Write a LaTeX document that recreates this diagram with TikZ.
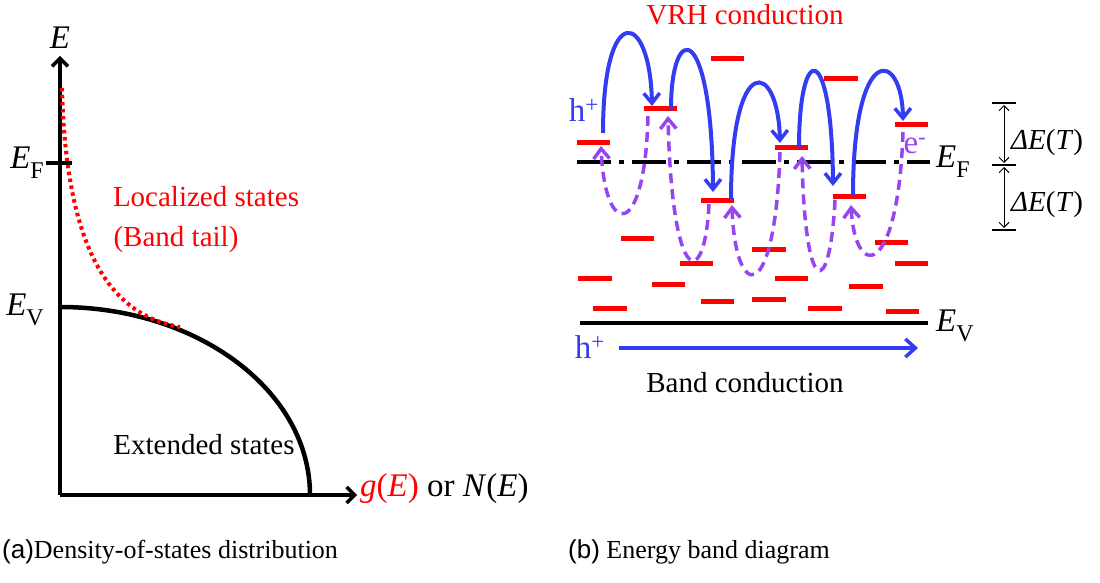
\documentclass[tikz,border=0pt]{standalone}
\usepackage{fontspec}
\setmainfont{Liberation Serif}
\newfontfamily\sansf{Liberation Sans}
\usetikzlibrary{arrows.meta}
\definecolor{hblue}{RGB}{50,60,240}
\definecolor{vio}{RGB}{150,70,240}
\newcommand{\Esub}[1]{\textit{E}\raisebox{-0.3em}{\fontsize{24}{26}\selectfont #1}}
\begin{document}
\begin{tikzpicture}[x=1pt,y=-1pt,
 lev/.style={red,line width=5pt},
 hop/.style={hblue,line width=4pt,-{Straight Barb[length=10pt,width=16pt,line width=3.5pt]}},
 back/.style={vio,line width=3.5pt,dash pattern=on 10pt off 6pt,-{Straight Barb[length=10pt,width=16pt,line width=3.5pt]}},
 txt/.style={font=\fontsize{29}{32}\selectfont,inner sep=0pt},
 lab/.style={font=\fontsize{33}{36}\selectfont,inner sep=0pt},
 captxt/.style={font=\fontsize{26}{28}\selectfont,inner sep=0pt}]
\useasboundingbox (0,0) rectangle (1100,583);
% left panel
\coordinate (o) at (60,495);
\coordinate (ytop) at (60,56);
\coordinate (xend) at (357,495);
\draw[line width=4pt,-{Straight Barb[length=8pt,width=16pt,line width=3.5pt]}] (o) -- (ytop);
\draw[line width=4pt,-{Straight Barb[length=8pt,width=16pt,line width=3.5pt]}] (o) -- (xend);
\node[lab] (E) at (60,38) {\textit{E}};
\coordinate (ef1) at (46,163); \coordinate (ef2) at (72,163);
\draw[line width=4pt] (ef1) -- (ef2);
\node[lab,anchor=east] (EFl) at (44,163) {\Esub{F}};
\node[lab,anchor=east] (EVl) at (44,310) {\Esub{V}};
\coordinate (ev) at (60,307); \coordinate (bend) at (310,495);
\draw[line width=4.5pt] (ev) .. controls (198,307) and (310,391) .. (bend);
\coordinate (t1) at (62,88); \coordinate (t2) at (180,327);
\draw[red,line width=4pt,dash pattern=on 3.5pt off 3.5pt] (t1) .. controls (66,250) and (110,315) .. (t2);
\node[txt,red] (loc) at (206,197) {Localized states};
\node[txt,red] (tail) at (176,240) {(Band tail)};
\node[txt] (ext) at (204,445) {Extended states};
\node[lab,anchor=west] (gE) at (360,489) {\textcolor{red}{\textit{g}(\textit{E})} or \textit{N}(\textit{E})};
\node[captxt,anchor=west] (capa) at (2,552) {{\sansf (a)}Density-of-states distribution};
\node[captxt,anchor=west] (capb) at (568,552) {{\sansf (b)} Energy band diagram};
% right panel
\coordinate (f1) at (577,162); \coordinate (f2) at (930,162);
\draw[line width=4pt,dash pattern=on 34pt off 8pt on 5pt off 8pt] (f1) -- (f2);
\coordinate (v1) at (580,323); \coordinate (v2) at (928,323);
\draw[line width=4pt] (v1) -- (v2);
\node[lab,anchor=west] (EF) at (936,162) {\Esub{F}};
\node[lab,anchor=west] (EV) at (936,326) {\Esub{V}};
\foreach \a/\b/\y in {577/610/143,644/677/109,711/744/59,701/734/200,775/808/148,824/858/79,833/866/196,895/928/125,
621/654/238,680/713/263,752/786/249,875/908/242,895/928/263,578/612/278,652/685/284,775/808/278,849/883/286,
701/734/301,752/786/299,593/627/308,808/842/308,886/919/311}
  \draw[lev] (\a,\y) -- (\b,\y);
% blue hops
\draw[hop] (603,133) .. controls (603,0) and (650,10) .. (652,106);
\draw[hop] (671,109) .. controls (671,20) and (712,20) .. (713,192);
\draw[hop] (731,200) .. controls (731,50) and (778,60) .. (780,143);
\draw[hop] (799,148) .. controls (799,40) and (832,40) .. (833,186);
\draw[hop] (853,196) .. controls (853,40) and (902,50) .. (903,121);
% violet returns
\draw[back] (648,116) .. controls (645,240) and (605,240) .. (601,146);
\draw[back] (709,204) .. controls (705,290) and (672,290) .. (668,116);
\draw[back] (780,152) .. controls (775,310) and (735,300) .. (732,205);
\draw[back] (835,200) .. controls (830,300) and (805,300) .. (802,156);
\draw[back] (903,132) .. controls (898,280) and (855,280) .. (851,205);
\node[lab,hblue] (h1) at (584,110) {h\textsuperscript{+}};
\node[lab,vio] (e1) at (915,146) {e\textsuperscript{-}};
\node[txt,red] (vrh) at (745,15) {VRH conduction};
\node[lab,hblue] (h2) at (590,347) {h\textsuperscript{+}};
\coordinate (b1) at (619,348); \coordinate (b2) at (918,348);
\draw[hblue,line width=3.5pt,-{Straight Barb[length=10pt,width=18pt,line width=3.5pt]}] (b1) -- (b2);
\node[txt] (bc) at (745,383) {Band conduction};
% delta E bracket
\foreach \y in {103,165,230} \draw[line width=1.5pt] (992,\y) -- (1016,\y);
\coordinate (d1) at (1004,105); \coordinate (d2) at (1004,163);
\coordinate (d3) at (1004,167); \coordinate (d4) at (1004,228);
\draw[line width=1pt,{Straight Barb[length=5pt]}-{Straight Barb[length=5pt]}] (d1) -- (d2);
\draw[line width=1pt,{Straight Barb[length=5pt]}-{Straight Barb[length=5pt]}] (d3) -- (d4);
\node[txt,anchor=west] (de1) at (1011,143) {\textit{ΔE}(\textit{T})};
\node[txt,anchor=west] (de2) at (1011,205) {\textit{ΔE}(\textit{T})};
\end{tikzpicture}
\end{document}
